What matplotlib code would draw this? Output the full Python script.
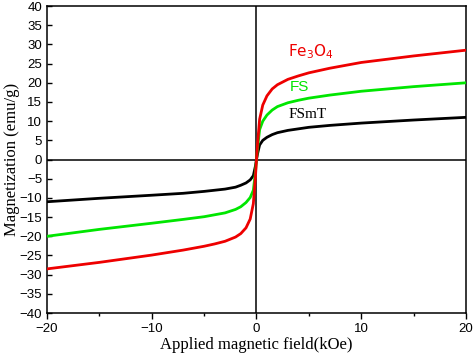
import numpy as np
import matplotlib.pyplot as plt
from matplotlib.ticker import MultipleLocator

plt.rcParams['mathtext.fontset'] = 'custom'
plt.rcParams['mathtext.rm'] = 'Liberation Sans'

# applied field (kOe) and magnetization (emu/g)
field = [-20, -15, -10, -7, -5, -4, -3, -2, -1.5, -1, -0.6, -0.3, -0.1, 0,
         0.1, 0.3, 0.6, 1, 1.5, 2, 3, 4, 5, 7, 10, 15, 20]
fe3o4 = [-28.5, -26.8, -24.9, -23.6, -22.6, -22.0, -21.3, -20.2, -19.3, -17.8, -15.5, -11.5, -4.5, 0,
         4.0, 10.5, 14.2, 16.6, 18.4, 19.5, 20.9, 21.8, 22.6, 23.8, 25.3, 27.0, 28.5]
fs = [-20.0, -18.2, -16.6, -15.6, -14.9, -14.4, -13.9, -13.0, -12.3, -11.2, -9.9, -8.0, -3.3, 0,
      3.0, 7.8, 10.0, 11.6, 12.9, 13.8, 14.8, 15.45, 16.0, 16.8, 17.8, 19.0, 20.0]
fsmt = [-11.0, -10.1, -9.3, -8.8, -8.3, -8.0, -7.7, -7.2, -6.7, -6.1, -5.3, -4.2, -1.7, 0,
        1.5, 3.8, 5.0, 5.8, 6.5, 7.0, 7.6, 8.0, 8.4, 8.9, 9.5, 10.3, 11.0]

fig = plt.figure(figsize=(4.74, 3.57), dpi=100)
ax = fig.add_axes([0.0992, 0.1232, 0.8838, 0.8598])

ax.axhline(0, color='black', lw=1.1, zorder=1)
ax.axvline(0, color='black', lw=1.1, zorder=1)

ax.plot(field, fsmt, color='black', lw=2, zorder=3)
ax.plot(field, fs, color='#00e600', lw=2, zorder=3)
ax.plot(field, fe3o4, color='#ee0000', lw=2, zorder=4)

ax.text(3.0, 27.0, r'$\mathregular{Fe_{3}O_{4}}$', color='#ee0000', fontsize=11)
ax.text(3.2, 17.8, 'FS', color='#00e600', fontsize=11, family='Liberation Sans')
ax.text(3.1, 10.8, 'FSmT', color='black', fontsize=11, family='Liberation Serif')

ax.set_xlim(-20, 20)
ax.set_ylim(-40, 40)
ax.xaxis.set_major_locator(MultipleLocator(10))
ax.xaxis.set_minor_locator(MultipleLocator(5))
ax.yaxis.set_major_locator(MultipleLocator(5))
ax.tick_params(axis='x', which='major', direction='out', length=4, width=1, labelsize=9.5, top=False)
ax.tick_params(axis='x', which='minor', direction='out', length=2.5, width=1, top=False)
ax.tick_params(axis='y', direction='in', length=3.5, width=1, labelsize=9.5, right=False)
for lab in ax.get_xticklabels() + ax.get_yticklabels():
    lab.set_family('Liberation Sans')
for s in ax.spines.values():
    s.set_linewidth(1.1)

ax.set_xlabel('Applied magnetic field(kOe)', family='Liberation Serif', fontsize=12, labelpad=1)
ax.set_ylabel('Magnetization (emu/g)', family='Liberation Serif', fontsize=12, labelpad=0)

fig.savefig('out.png', dpi=100)
